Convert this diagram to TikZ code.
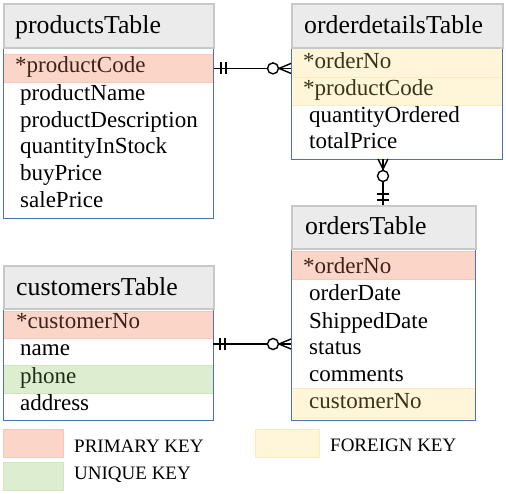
\documentclass[tikz,border=0pt]{standalone}
\usepackage{fontspec}
\setmainfont{Liberation Serif}
\usetikzlibrary{calc}
\definecolor{hdrfill}{HTML}{EBEBEB}
\definecolor{hdrline}{HTML}{C8C8C8}
\definecolor{bodyline}{HTML}{4A73B6}
\definecolor{pkfill}{HTML}{FCD5C9}
\definecolor{pkline}{HTML}{F9C6B7}
\definecolor{fkfill}{HTML}{FFF5D8}
\definecolor{fkline}{HTML}{FCEBC0}
\definecolor{ukfill}{HTML}{DCEDD0}
\definecolor{ukline}{HTML}{CFE6BF}
\definecolor{pktext}{HTML}{3E2219}
\definecolor{fktext}{HTML}{3A3319}
\definecolor{uktext}{HTML}{1F2D14}
\tikzset{
  hdr/.style={draw=hdrline, fill=hdrfill, line width=1.8pt, anchor=north west, inner sep=0pt},
  tbody/.style={draw=bodyline, line width=1.3pt, anchor=north west, inner sep=0pt},
  pkbox/.style={fill=pkfill, draw=pkline, line width=0.8pt, anchor=north west, inner sep=0pt},
  fkbox/.style={fill=fkfill, draw=fkline, line width=0.8pt, anchor=north west, inner sep=0pt},
  ukbox/.style={fill=ukfill, draw=ukline, line width=0.8pt, anchor=north west, inner sep=0pt},
  ttl/.style={anchor=base west, inner sep=0pt, font=\fontsize{25.8}{30}\selectfont},
  fld/.style={anchor=base west, inner sep=0pt, font=\fontsize{23}{27}\selectfont},
  lgd/.style={anchor=base west, inner sep=0pt, font=\fontsize{19}{22}\selectfont},
  conn/.style={line width=1.4pt, black},
  ring/.style={draw=black, fill=white, line width=1.4pt, circle, inner sep=0pt, minimum size=11pt}
}
\begin{document}
\begin{tikzpicture}[x=1pt,y=-1pt]
\useasboundingbox (0,0) rectangle (506,493);

% ---------- productsTable ----------
\node[pkbox, minimum width=210pt, minimum height=28pt] (pPK) at (3,54) {};
\node[tbody, minimum width=210pt, minimum height=171pt] (pBody) at (3,47) {};
\node[hdr, minimum width=210pt, minimum height=44pt] (pHead) at (3,3) {};
\node[ttl] (pT) at (15,33) {productsTable};
\node[fld, text=pktext] (p1) at (15,72) {*productCode};
\node[fld] (p2) at (20,100) {productName};
\node[fld] (p3) at (20,127) {productDescription};
\node[fld] (p4) at (20,153.5) {quantityInStock};
\node[fld] (p5) at (20,180) {buyPrice};
\node[fld] (p6) at (20,207) {salePrice};

% ---------- orderdetailsTable ----------
\node[fkbox, minimum width=211pt, minimum height=29pt] (odFK1) at (291,48) {};
\node[fkbox, minimum width=211pt, minimum height=28pt] (odFK2) at (291,77) {};
\node[tbody, minimum width=211pt, minimum height=112pt] (odBody) at (291,47) {};
\node[hdr, minimum width=211pt, minimum height=44pt] (odHead) at (291,3) {};
\node[ttl] (odT) at (304,33) {orderdetailsTable};
\node[fld, text=fktext] (od1) at (303,68) {*orderNo};
\node[fld, text=fktext] (od2) at (303,95) {*productCode};
\node[fld] (od3) at (309,122) {quantityOrdered};
\node[fld] (od4) at (309,148.5) {totalPrice};

% ---------- ordersTable ----------
\node[pkbox, minimum width=184pt, minimum height=28pt] (oPK) at (291,251) {};
\node[fkbox, minimum width=184pt, minimum height=30pt] (oFK) at (291,388) {};
\node[tbody, minimum width=184pt, minimum height=172pt] (oBody) at (291,248) {};
\node[hdr, minimum width=184pt, minimum height=43pt] (oHead) at (291,205) {};
\node[ttl] (oT) at (305,234) {ordersTable};
\node[fld, text=pktext] (o1) at (303,273) {*orderNo};
\node[fld] (o2) at (309,300) {orderDate};
\node[fld] (o3) at (309,328) {ShippedDate};
\node[fld] (o4) at (309,354) {status};
\node[fld] (o5) at (309,381) {comments};
\node[fld, text=fktext] (o6) at (309,408) {customerNo};

% ---------- customersTable ----------
\node[pkbox, minimum width=210pt, minimum height=27pt] (cPK) at (3,311) {};
\node[ukbox, minimum width=210pt, minimum height=28pt] (cUK) at (3,365) {};
\node[tbody, minimum width=210pt, minimum height=112pt] (cBody) at (3,308) {};
\node[hdr, minimum width=210pt, minimum height=43pt] (cHead) at (3,265) {};
\node[ttl] (cT) at (16,295) {customersTable};
\node[fld, text=pktext] (c1) at (16,328) {*customerNo};
\node[fld] (c2) at (20,355) {name};
\node[fld, text=uktext] (c3) at (20,383) {phone};
\node[fld] (c4) at (20,410) {address};

% ---------- legend ----------
\node[pkbox, minimum width=60pt, minimum height=28pt] (lgPK) at (3,429) {};
\node[lgd] (lgPKt) at (74,452) {PRIMARY KEY};
\node[ukbox, minimum width=60pt, minimum height=28pt] (lgUK) at (3,462) {};
\node[lgd] (lgUKt) at (74,479) {UNIQUE KEY};
\node[fkbox, minimum width=64pt, minimum height=28pt] (lgFK) at (255,429) {};
\node[lgd] (lgFKt) at (330,451.5) {FOREIGN KEY};

% ---------- connectors ----------
% products (one) -- orderdetails (zero or many)
\coordinate (a1) at (pPK.east);
\coordinate (b1) at (pPK.east -| odBody.west);
\draw[conn] (a1) -- (b1);
\draw[conn] ($(a1)+(7,-6)$) -- ($(a1)+(7,6)$);
\draw[conn] ($(a1)+(12,-6)$) -- ($(a1)+(12,6)$);
\node[ring] (r1) at ($(b1)+(-18,0)$) {};
\draw[conn] ($(b1)+(-12,0)$) -- ($(b1)+(0,-5)$);
\draw[conn] ($(b1)+(-12,0)$) -- ($(b1)+(0,5)$);

% customers (one) -- orders (zero or many)
\coordinate (a2) at (213,344);
\coordinate (b2) at (a2 -| oBody.west);
\draw[conn] (a2) -- (b2);
\draw[conn] ($(a2)+(7,-6)$) -- ($(a2)+(7,6)$);
\draw[conn] ($(a2)+(12,-6)$) -- ($(a2)+(12,6)$);
\node[ring] (r2) at ($(b2)+(-18,0)$) {};
\draw[conn] ($(b2)+(-12,0)$) -- ($(b2)+(0,-5)$);
\draw[conn] ($(b2)+(-12,0)$) -- ($(b2)+(0,5)$);

% orderdetails (zero or many) -- orders (one)
\coordinate (a3) at (383,159);
\coordinate (b3) at (a3 |- oHead.north);
\draw[conn] (a3) -- (b3);
\draw[conn] ($(a3)+(0,10)$) -- ($(a3)+(-5,0)$);
\draw[conn] ($(a3)+(0,10)$) -- ($(a3)+(5,0)$);
\node[ring] (r3) at ($(a3)+(0,17)$) {};
\draw[conn] ($(b3)+(-6,-11)$) -- ($(b3)+(6,-11)$);
\draw[conn] ($(b3)+(-6,-5)$) -- ($(b3)+(6,-5)$);
\end{tikzpicture}
\end{document}
